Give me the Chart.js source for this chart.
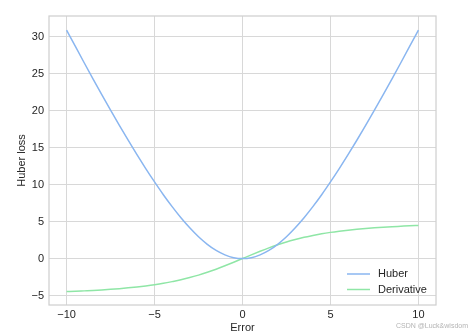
<!DOCTYPE html>
<html>
<head>
  <meta charset="UTF-8">
  <title>Huber loss</title>
  <style>
    html, body { margin: 0; padding: 0; background: #fff; }
    #wrap { width: 474px; height: 332px; }
  </style>
</head>
<body>
  <div id="wrap"><canvas id="chart" width="474" height="332"></canvas></div>

  <script src="https://cdn.jsdelivr.net/npm/chart.js"></script>
  <script>
    // error values (x) and the two curves
    const errors = [-10, -9.5, -9, -8.5, -8, -7.5, -7, -6.5, -6, -5.5, -5, -4.5, -4, -3.5, -3, -2.5, -2, -1.5, -1, -0.5,
      0, 0.5, 1, 1.5, 2, 2.5, 3, 3.5, 4, 4.5, 5, 5.5, 6, 6.5, 7, 7.5, 8, 8.5, 9, 9.5, 10];
    const huber = [30.9, 28.68, 26.48, 24.31, 22.17, 20.07, 18.01, 16.0, 14.05, 12.17, 10.36, 8.63, 7.02, 5.52, 4.16, 2.95, 1.93, 1.1, 0.5, 0.12,
      0, 0.12, 0.5, 1.1, 1.93, 2.95, 4.16, 5.52, 7.02, 8.63, 10.36, 12.17, 14.05, 16.0, 18.01, 20.07, 22.17, 24.31, 26.48, 28.68, 30.9];
    const derivative = [-4.47, -4.43, -4.37, -4.31, -4.24, -4.16, -4.07, -3.96, -3.84, -3.7, -3.54, -3.35, -3.12, -2.87, -2.57, -2.24, -1.86, -1.44, -0.98, -0.5,
      0, 0.5, 0.98, 1.44, 1.86, 2.24, 2.57, 2.87, 3.12, 3.35, 3.54, 3.7, 3.84, 3.96, 4.07, 4.16, 4.24, 4.31, 4.37, 4.43, 4.47];
    const xTicks = [-10, -5, 0, 5, 10];
    const yTicks = [-5, 0, 5, 10, 15, 20, 25, 30];
    const seriesNames = ['Huber', 'Derivative'];
    const seriesColors = ['#8ab6f0', '#8fe6a6'];

    const FONT = '"Liberation Sans", Arial, sans-serif';
    const TEXT = '#262626';
    const GRID = '#d8d8d8';

    function pts(ys) {
      return errors.map((x, i) => ({ x: x, y: ys[i] }));
    }
    function minus(v) {
      return String(v).replace('-', '\u2212');
    }

    // frame, legend inside the plot and the small watermark
    const extras = {
      id: 'extras',
      afterDraw(chart) {
        const ctx = chart.ctx, a = chart.chartArea;
        ctx.save();
        ctx.strokeStyle = '#d0d0d0';
        ctx.lineWidth = 1.25;
        ctx.strokeRect(a.left, a.top, a.right - a.left, a.bottom - a.top);

        ctx.font = '11px ' + FONT;
        ctx.textBaseline = 'middle';
        ctx.textAlign = 'left';
        seriesNames.forEach((name, i) => {
          const y = a.bottom - 31 + i * 15.5;
          ctx.strokeStyle = seriesColors[i];
          ctx.lineWidth = 1.5;
          ctx.beginPath();
          ctx.moveTo(a.right - 89, y);
          ctx.lineTo(a.right - 66, y);
          ctx.stroke();
          ctx.fillStyle = TEXT;
          ctx.fillText(name, a.right - 58, y);
        });

        ctx.font = '7px ' + FONT;
        ctx.fillStyle = '#b4b4b4';
        ctx.textAlign = 'right';
        ctx.fillText('CSDN @Luck&wisdom', 468, 326);
        ctx.restore();
      }
    };

    new Chart(document.getElementById('chart'), {
      type: 'line',
      data: {
        datasets: [
          { label: seriesNames[0], data: pts(huber), borderColor: seriesColors[0], borderWidth: 1.5, pointRadius: 0, tension: 0.4, cubicInterpolationMode: 'monotone', fill: false },
          { label: seriesNames[1], data: pts(derivative), borderColor: seriesColors[1], borderWidth: 1.5, pointRadius: 0, tension: 0.4, cubicInterpolationMode: 'monotone', fill: false }
        ]
      },
      options: {
        responsive: false,
        animation: false,
        events: [],
        layout: { padding: { top: 16, right: 38, left: 0, bottom: 0 } },
        plugins: { legend: { display: false }, tooltip: { enabled: false } },
        scales: {
          x: {
            type: 'linear',
            min: -11, max: 11,
            afterFit(s) { s.height = 27; },
            afterBuildTicks(s) { s.ticks = xTicks.map(v => ({ value: v })); },
            grid: { color: GRID, drawTicks: false },
            border: { display: false },
            ticks: { color: TEXT, font: { family: FONT, size: 11 }, padding: 3, callback: v => minus(v) },
            title: { display: true, text: 'Error', color: TEXT, font: { family: FONT, size: 11 }, padding: { top: 0, bottom: -3 } }
          },
          y: {
            type: 'linear',
            min: -6.28, max: 32.8,
            afterFit(s) { s.width = 49; },
            afterBuildTicks(s) { s.ticks = yTicks.map(v => ({ value: v })); },
            grid: { color: GRID, drawTicks: false },
            border: { display: false },
            ticks: { color: TEXT, font: { family: FONT, size: 11 }, padding: 5, callback: v => minus(v) },
            title: { display: true, text: 'Huber loss', color: TEXT, font: { family: FONT, size: 11 }, padding: { top: 15, bottom: 4 } }
          }
        }
      },
      plugins: [extras]
    });
  </script>
</body>
</html>
